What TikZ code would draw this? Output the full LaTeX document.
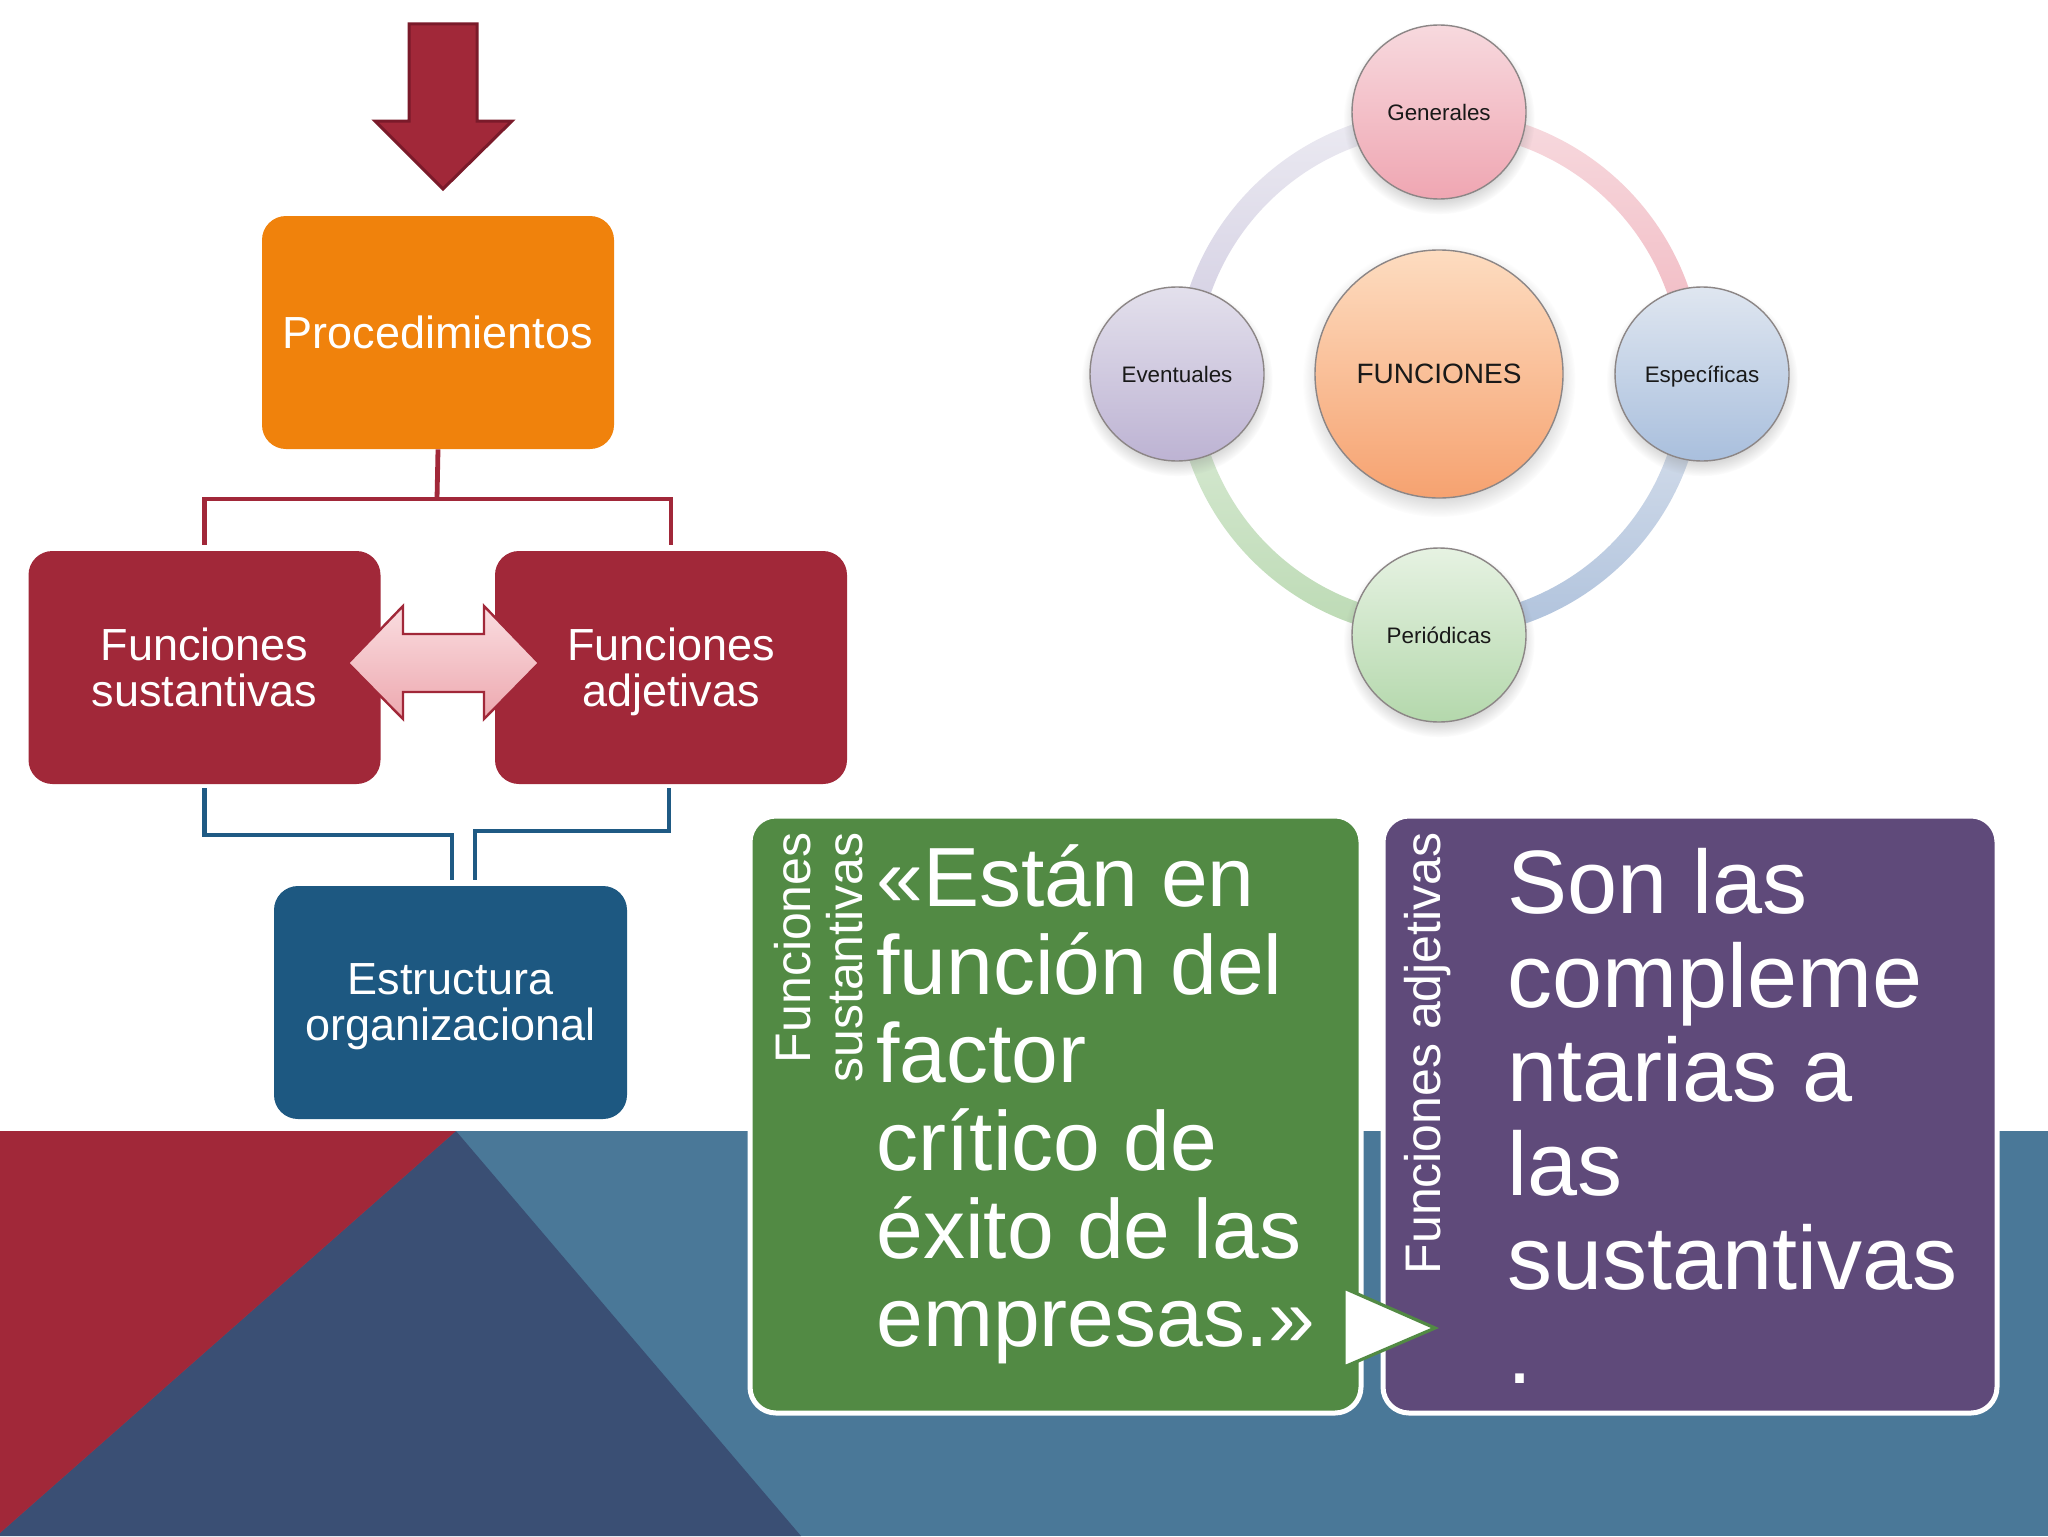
\documentclass[tikz,border=0pt]{standalone}
\usepackage{fontspec}
\setmainfont{Liberation Sans}
\usetikzlibrary{shadows,fadings}
\definecolor{crimson}{HTML}{A12839}
\definecolor{crimsondark}{HTML}{7A1A2A}
\definecolor{orangebox}{HTML}{F0820C}
\definecolor{bluebox}{HTML}{1D5881}
\definecolor{bluecol}{HTML}{1F5A84}
\definecolor{greenbox}{HTML}{528A44}
\definecolor{purplebox}{HTML}{5F4A7A}
\definecolor{steel}{HTML}{4A7898}
\definecolor{navy}{HTML}{3A4F74}
\definecolor{pinkA}{HTML}{FADDE0}
\definecolor{pinkB}{HTML}{EDA8AF}
\definecolor{circborder}{HTML}{8C8686}
\definecolor{genT}{HTML}{F7D9DE}\definecolor{genB}{HTML}{EFA6B2}
\definecolor{espT}{HTML}{DFE6F0}\definecolor{espB}{HTML}{A9BFDD}
\definecolor{perT}{HTML}{E6F2E2}\definecolor{perB}{HTML}{B4D8AC}
\definecolor{eveT}{HTML}{E3E0EC}\definecolor{eveB}{HTML}{BDB3D3}
\definecolor{funT}{HTML}{FDDCC0}\definecolor{funB}{HTML}{F6A270}
\definecolor{rpT}{HTML}{F7DADF}\definecolor{rpB}{HTML}{F0B5BE}
\definecolor{rlT}{HTML}{ECEBF2}\definecolor{rlB}{HTML}{CFCAE0}
\definecolor{rgT}{HTML}{DCECD8}\definecolor{rgB}{HTML}{BCDAB4}
\definecolor{rbT}{HTML}{DCE3EE}\definecolor{rbB}{HTML}{AFC2DC}
\tikzset{
  orgbox/.style={rectangle, rounded corners=12pt, minimum width=176pt, minimum height=116.5pt, inner sep=0pt, text=white, align=center, font=\fontsize{22.5}{23}\selectfont},
  redline/.style={draw=crimson, line width=2.4pt},
  bluecon/.style={draw=bluecol, line width=2.4pt},
  cyc/.style={circle, draw=circborder, line width=0.7pt, inner sep=0pt, text=black!90, circular drop shadow={shadow xshift=0pt, shadow yshift=-3pt, opacity=0.3}},
  smallcyc/.style={cyc, minimum size=87pt, font=\fontsize{11.2}{13}\selectfont, text height=8.2pt, text depth=0pt},
  bigcyc/.style={cyc, minimum size=124pt, font=\fontsize{14}{16}\selectfont},
  panel/.style={rectangle, rounded corners=13pt, draw=white, line width=2.5pt, inner sep=0pt},
  vtext/.style={rotate=90, inner sep=0pt, text=white, font=\fontsize{25}{26}\selectfont, anchor=base east},
  gtext/.style={inner sep=0pt, text=white, font=\fontsize{42}{44}\selectfont, anchor=base west},
  ptext/.style={inner sep=0pt, text=white, font=\fontsize{45}{47}\selectfont, anchor=base west}
}
\begin{document}
\begin{tikzpicture}[x=0.5pt,y=-0.5pt]
\useasboundingbox (0,0) rectangle (2048,1536);
\fill[white] (0,0) rectangle (2048,1536);
% background band
\fill[steel] (0,1131) rectangle (2048,1536);
\fill[navy] (456,1131) -- (0,1533) -- (0,1536) -- (801,1536) -- cycle;
\fill[crimson] (0,1131) -- (456,1131) -- (0,1533) -- cycle;

% left org chart
\filldraw[fill=crimson, draw=crimsondark, line width=1.5pt, line join=miter]
  (409,24) -- (477,24) -- (477,121) -- (512,121) -- (443,189) -- (375,121) -- (409,121) -- cycle;
\node[orgbox, fill=orangebox] (proc) at (438,332.5) {Procedimientos};
\node[orgbox, fill=crimson] (fs) at (204.5,667.5) {Funciones\\sustantivas};
\node[orgbox, fill=crimson] (fa) at (671,667.5) {Funciones\\\smash{adjetivas}};
\node[orgbox, fill=bluebox, minimum width=176.5pt] (est) at (450.5,1002.5) {Estructura\\\smash{organizacional}};
\coordinate (rj) at (437,499);
\draw[redline] (proc.south) -- (rj);
\draw[redline] ([yshift=3pt]fs.north) |- (rj) -| ([yshift=3pt]fa.north);
\coordinate (bl) at (452,835);
\coordinate (br) at (475,831);
\coordinate (et) at ([yshift=3pt]est.north);
\draw[bluecon] ([yshift=-2pt]fs.south) |- (bl) -- (bl |- et);
\draw[bluecon] ([yshift=-2pt,xshift=-1pt]fa.south) |- (br) -- (br |- et);
\path[draw=crimson, line width=1.2pt, top color=pinkA, bottom color=pinkB, line join=miter]
  (348,663) -- (403,606) -- (403,634) -- (484,634) -- (484,606) -- (539,663)
  -- (484,719) -- (484,692) -- (403,692) -- (403,719) -- cycle;

% cycle diagram
\begin{scope}[shift={(1439,374)}]
  \foreach \a/\b/\ct/\cb in {0/90/rpT/rpB, 90/180/rlT/rlB, 180/270/rgT/rgB, 270/360/rbT/rbB}
    \path[top color=\ct, bottom color=\cb] (\a:132pt) arc[start angle=\a, end angle=\b, radius=132pt]
      -- (\b:121pt) arc[start angle=\b, end angle=\a, radius=121pt] -- cycle;
  \node[bigcyc, top color=funT, bottom color=funB] (fun) at (0,0) {FUNCIONES};
  \node[smallcyc, top color=genT, bottom color=genB] (gen) at (90:131pt) {Generales};
  \node[smallcyc, top color=espT, bottom color=espB] (esp) at (0:131.5pt) {Específicas};
  \node[smallcyc, top color=perT, bottom color=perB] (per) at (270:130.5pt) {Periódicas};
  \node[smallcyc, top color=eveT, bottom color=eveB] (eve) at (180:131pt) {Eventuales};
\end{scope}

% panels
\node[panel, fill=greenbox, minimum width=305.5pt, minimum height=298.5pt] (gbox) at (1055.5,1114.5) {};
\node[panel, fill=purplebox, minimum width=307pt, minimum height=298.5pt] (pbox) at (1690,1114.5) {};
\node[vtext] (vs1) at (810,832) {Funciones};
\node[vtext] (vs2) at (862,832) {sustantivas};
\node[vtext] (va1) at (1440,832) {Funciones adjetivas};
\foreach \t [count=\i from 0] in {«Están en,función del,factor,crítico de,éxito de las,empresas.»}
  \node[gtext] (g\i) at (876,{906+88*\i}) {\t};
\foreach \t [count=\i from 0] in {Son las,compleme,ntarias a,las,sustantivas,.}
  \node[ptext] (p\i) at (1507,{913+94*\i}) {\t};
\filldraw[fill=white, draw=greenbox, line width=1.6pt, line join=miter]
  (1344,1288) -- (1435,1328) -- (1344,1367) -- cycle;
\end{tikzpicture}
\end{document}
